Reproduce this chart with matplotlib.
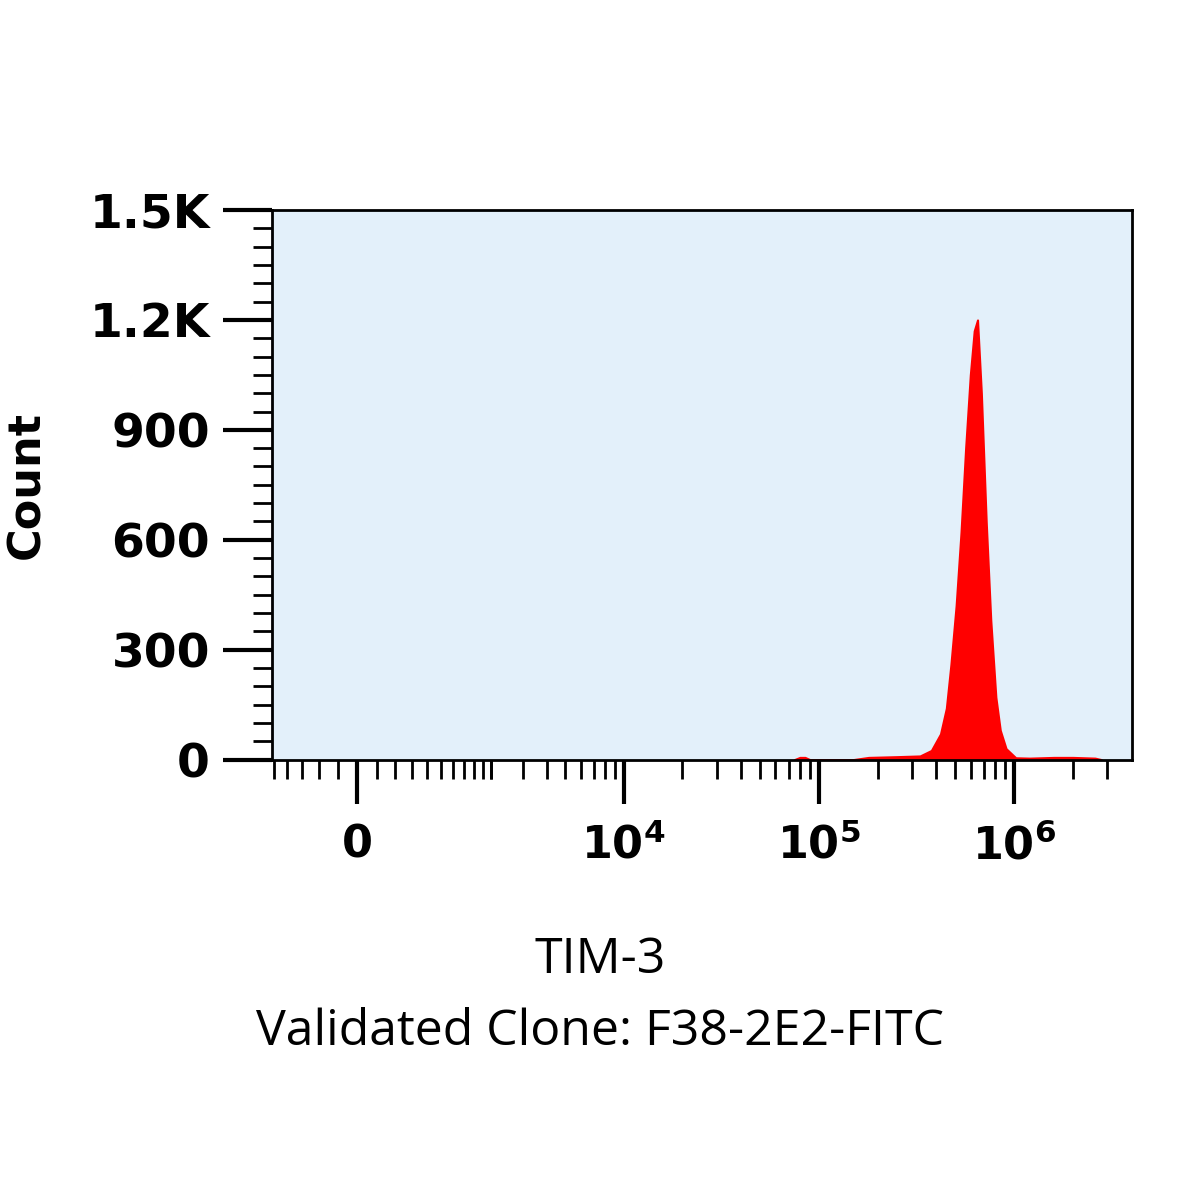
import numpy as np
import matplotlib
matplotlib.use("Agg")
import matplotlib.pyplot as plt

# Data
fluor = [7.5e4, 8.0e4, 8.5e4, 9.0e4, 1.5e5, 1.8e5, 2.5e5, 3.3e5, 3.77e5, 4.2e5, 4.5e5, 4.75e5, 5.05e5, 5.35e5,
         5.65e5, 5.97e5, 6.25e5, 6.5e5, 6.8e5, 7.2e5, 7.6e5, 8.07e5, 8.5e5, 9.1e5, 1.02e6, 1.2e6, 1.6e6, 2.0e6, 2.6e6, 2.8e6]
counts = [0, 6, 6, 0, 0, 6, 8, 10, 25, 70, 140, 260, 420, 620,
          850, 1050, 1170, 1200, 1000, 650, 380, 170, 80, 30, 5, 4, 6, 6, 4, 0]
ytick_vals = [0, 300, 600, 900, 1200, 1500]
ytick_labels = ["0", "300", "600", "900", "1.2K", "1.5K"]
xtick_vals = [0, 1e4, 1e5, 1e6]
xtick_labels = ["0", r"$\mathbf{10^4}$", r"$\mathbf{10^5}$", r"$\mathbf{10^6}$"]

C = 866.0
fwd = lambda v: np.arcsinh(np.asarray(v, float) / C) / np.log(10)
inv = lambda f: C * np.sinh(np.asarray(f, float) * np.log(10))

fig = plt.figure(figsize=(12, 12), dpi=100)
ax = fig.add_axes([0.227, 0.367, 0.716, 0.458])
ax.set_xscale("function", functions=(fwd, inv))
ax.set_facecolor("#e3f0fa")
ax.fill_between(fluor, counts, 0, color="#ff0000", lw=1.5, edgecolor="#ff0000")
ax.set_xlim(-1020, 4.0e6)
ax.set_ylim(0, 1500)

ax.set_yticks(ytick_vals)
ax.set_yticklabels(ytick_labels, fontsize=34, fontweight="bold")
ax.set_yticks(np.arange(0, 1501, 50), minor=True)
ax.set_xticks(xtick_vals)
ax.set_xticklabels(xtick_labels, fontsize=32, fontweight="bold")
minors = list(np.arange(-1000, 2001, 200))
for d in [1e3, 1e4, 1e5, 1e6]:
    minors += [k * d for k in range(2, 10) if k * d < 4e6]
ax.set_xticks(minors, minor=True)
ax.tick_params(axis="both", which="major", length=32, width=3, direction="out", pad=14)
ax.tick_params(axis="y", which="major", length=35, pad=10)
ax.tick_params(axis="both", which="minor", length=14, width=2, direction="out")
for s in ax.spines.values():
    s.set_linewidth(2)
ax.set_ylabel("Count", fontsize=32, fontweight="bold", labelpad=30)
fig.text(0.5, 0.2, "TIM-3", ha="center", va="center", fontsize=36, family="Open Sans")
fig.text(0.5, 0.14, "Validated Clone: F38-2E2-FITC", ha="center", va="center", fontsize=36, family="Open Sans")
fig.savefig("out.png", dpi=100, facecolor="white")
